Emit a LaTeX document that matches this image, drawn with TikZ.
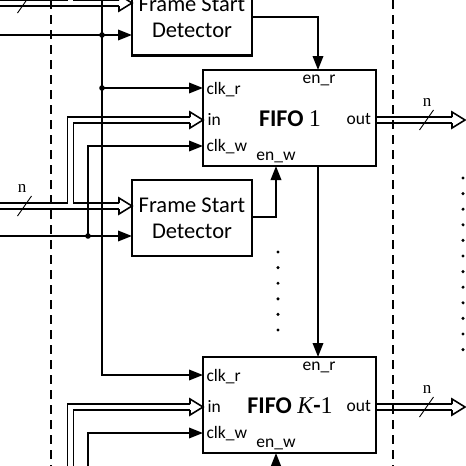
\documentclass[tikz,border=0pt]{standalone}
\usepackage{fontspec}
\setmainfont{Carlito}
\newfontfamily\tms{Liberation Serif}
\usetikzlibrary{arrows.meta,calc}
\newcommand\openhead[1]{\draw[bus,line join=miter] ($(#1)+(-13,-3)$) -- ($(#1)+(-13,-8)$) -- (#1) -- ($(#1)+(-13,8)$) -- ($(#1)+(-13,3)$);}
\begin{document}
\begin{tikzpicture}[x=1pt,y=-1pt,
  box/.style={draw,line width=2.3pt,inner sep=0pt,outer sep=0pt,minimum width=120pt,minimum height=76pt,align=center,font=\fontsize{22.5}{26}\selectfont},
  fifo/.style={draw,line width=2.3pt,inner sep=0pt,outer sep=0pt,minimum width=173pt,minimum height=96pt},
  sig/.style={line width=1.8pt},
  tip/.style={-{Triangle[length=14pt,width=10.5pt]}},
  bus/.style={line width=1.6pt},
  port/.style={font=\fontsize{17.5}{19}\selectfont,inner sep=0pt,outer sep=0pt},
  title/.style={font=\fontsize{24}{26}\selectfont,inner sep=0pt,outer sep=0pt},
  nlab/.style={font=\tms\fontsize{17}{19}\selectfont,inner sep=0pt},
  sep/.style={line width=2.2pt,dash pattern=on 9pt off 6pt},
  slash/.style={line width=0.9pt}
]
\useasboundingbox (0,0) rectangle (466,466);
\clip (0,0) rectangle (466,466);

% separators
\coordinate (dl1) at (51,0); \coordinate (dl2) at (51,466);
\coordinate (dr1) at (393,0); \coordinate (dr2) at (393,466);
\draw[sep] (dl1) -- (dl2);
\draw[sep] (dr1) -- (dr2);

% blocks
\node[box] (fsd1) at (192,17.5) {Frame Start\\Detector};
\node[box] (fsd2) at (192,218) {Frame Start\\Detector};
\node[fifo] (fifo1) at (289.5,118) {};
\node[fifo] (fifok) at (289.5,405) {};

\node[title,anchor=base] (t1) at (290,126) {\bfseries FIFO {\tms\mdseries 1}};
\node[title,anchor=base] (tk) at (290,413) {\bfseries FIFO {\tms\mdseries\itshape K}-{\tms\mdseries 1}};

% port labels FIFO 1
\node[port,anchor=base west] (f1clkrl) at (206.5,94) {clk\_r};
\node[port,anchor=base west] (f1inl) at (207.5,125) {in};
\node[port,anchor=base west] (f1clkwl) at (206.5,151) {clk\_w};
\node[port,anchor=base] (f1enrl) at (319,83) {en\_r};
\node[port,anchor=base] (f1enwl) at (276,160) {en\_w};
\node[port,anchor=base east] (f1outl) at (371,124) {out};
% port labels FIFO K-1
\node[port,anchor=base west] (fkclkrl) at (206.5,381) {clk\_r};
\node[port,anchor=base west] (fkinl) at (207.5,412) {in};
\node[port,anchor=base west] (fkclkwl) at (206.5,438) {clk\_w};
\node[port,anchor=base] (fkenrl) at (319,370) {en\_r};
\node[port,anchor=base] (fkenwl) at (276,447) {en\_w};
\node[port,anchor=base east] (fkoutl) at (371,411) {out};

% port points
\coordinate (f1clkr) at ($(fifo1.north west)+(0,18)$);
\coordinate (f1in)   at ($(fifo1.north west)+(0,50)$);
\coordinate (f1clkw) at ($(fifo1.north west)+(0,76)$);
\coordinate (f1out)  at ($(fifo1.north east)+(0,50)$);
\coordinate (f1enr)  at ($(fifo1.north west)+(115,0)$);
\coordinate (f1enw)  at ($(fifo1.south west)+(73,0)$);
\coordinate (f1bot)  at ($(fifo1.south west)+(115,0)$);
\coordinate (fkclkr) at ($(fifok.north west)+(0,18)$);
\coordinate (fkin)   at ($(fifok.north west)+(0,50)$);
\coordinate (fkclkw) at ($(fifok.north west)+(0,76)$);
\coordinate (fkout)  at ($(fifok.north east)+(0,50)$);
\coordinate (fkenr)  at ($(fifok.north west)+(115,0)$);
\coordinate (fkenw)  at ($(fifok.south west)+(73,0)$);

% single signals
\coordinate (inA) at (0,35);
\coordinate (jA) at (102,35);
\coordinate (jB) at (102,88);
\coordinate (topV) at (102,-5);
\draw[sig,tip] (inA) -- (inA -| fsd1.west);
\draw[sig] (topV) -- (jB);
\draw[sig,tip] (jB) -- (f1clkr);
\draw[sig,tip] (jB) |- (fkclkr);
\fill (jA) circle (2.8pt);
\fill (jB) circle (2.8pt);

\coordinate (inB) at (0,236);
\coordinate (jC) at (88,236);
\draw[sig,tip] (inB) -- (inB -| fsd2.west);
\draw[sig,tip] (jC) |- (f1clkw);
\fill (jC) circle (2.8pt);
\coordinate (botC) at (88,472);
\draw[sig,tip] (botC) |- (fkclkw);

\draw[sig,tip] ($(fsd1.north east)+(0,37.5)$) -| (f1enr);
\draw[sig,tip] ($(fsd2.north east)+(0,37)$) -| (f1enw);
\draw[sig,tip] (f1bot) -- (fkenr);
\coordinate (botE) at (276,472);
\draw[sig,tip] (botE) -- (fkenw);

% top bus
\coordinate (busA) at (0,3);
\coordinate (tipA) at (fsd1.west |- busA);
\coordinate (splitA) at (70.5,3);
\draw[bus] ($(busA)+(0,-3)$) -| ($(splitA)+(-3,-15)$);
\draw[bus] ($(splitA)+(3,-15)$) |- ($(tipA)+(-13,-3)$);
\draw[bus] ($(busA)+(0,3)$) -- ($(tipA)+(-13,3)$);
\openhead{tipA}
\coordinate (slA) at (24.5,3);
\draw[slash] ($(slA)+(-7,10)$) -- ($(slA)+(7,-10)$);

% second bus
\coordinate (busB) at (0,206);
\coordinate (tipB) at (fsd2.west |- busB);
\coordinate (splitB) at (70.5,206);
\draw[bus] ($(busB)+(0,-3)$) -| ($(splitB |- f1in)+(-3,-3)$) -- ($(f1in)+(-13,-3)$);
\draw[bus] ($(f1in)+(-13,3)$) -| ($(splitB)+(3,-3)$) -- ($(tipB)+(-13,-3)$);
\draw[bus] ($(busB)+(0,3)$) -- ($(tipB)+(-13,3)$);
\openhead{tipB}
\openhead{f1in}
\coordinate (slB) at (24.5,206);
\draw[slash] ($(slB)+(-7,10)$) -- ($(slB)+(7,-10)$);
\node[nlab,anchor=base] (nB) at (22,192) {n};

% bottom bus
\coordinate (botbus) at (70.5,475);
\draw[bus] ($(botbus)+(-3,0)$) |- ($(fkin)+(-13,-3)$);
\draw[bus] ($(botbus)+(3,0)$) |- ($(fkin)+(-13,3)$);
\openhead{fkin}

% outputs
\coordinate (o1tip) at (465,120);
\draw[bus] ($(f1out)+(0,-3)$) -- ($(o1tip)+(-13,-3)$);
\draw[bus] ($(f1out)+(0,3)$) -- ($(o1tip)+(-13,3)$);
\openhead{o1tip}
\coordinate (sl1) at (426.5,120);
\draw[slash] ($(sl1)+(-7,10)$) -- ($(sl1)+(7,-10)$);
\node[nlab,anchor=base] (n1) at (427,106) {n};

\coordinate (oktip) at (465,407);
\draw[bus] ($(fkout)+(0,-3)$) -- ($(oktip)+(-13,-3)$);
\draw[bus] ($(fkout)+(0,3)$) -- ($(oktip)+(-13,3)$);
\openhead{oktip}
\coordinate (slk) at (426.5,407);
\draw[slash] ($(slk)+(-7,10)$) -- ($(slk)+(7,-10)$);
\node[nlab,anchor=base] (nk) at (427,393) {n};

% ellipsis dots
\foreach \k in {0,...,5} \fill (278,252+15.6*\k) circle (1.7pt);
\foreach \k in {0,...,11} \fill (463,178+15.6*\k) circle (1.7pt);
\end{tikzpicture}
\end{document}
